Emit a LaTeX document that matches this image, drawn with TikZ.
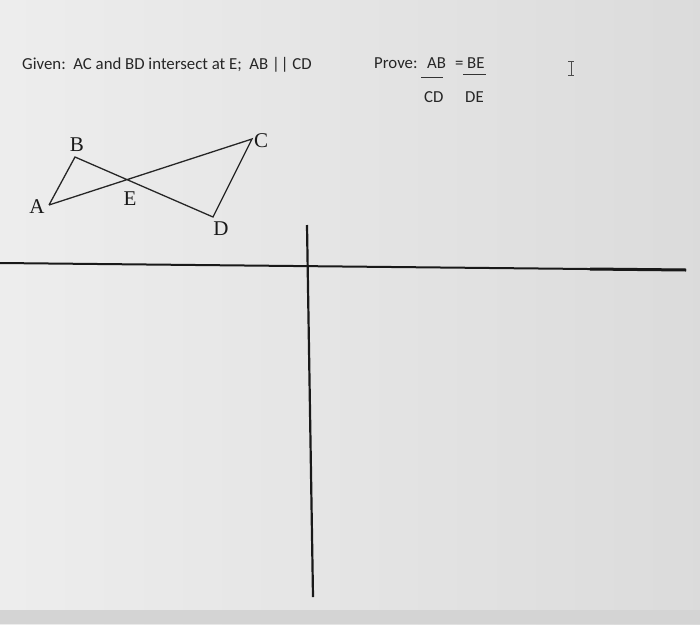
\documentclass[tikz,border=0pt]{standalone}
\usepackage{fontspec}
\setmainfont{Liberation Serif}
\newfontfamily\calfont{Carlito}
\begin{document}
\begin{tikzpicture}[x=1pt,y=-1pt,
  sanstext/.style={font=\calfont\fontsize{16.8}{19}\selectfont, inner sep=0pt, anchor=base west, text=black!85},
  vlabel/.style={font=\fontsize{21}{23}\selectfont, inner sep=0pt, text=black!90},
  seg/.style={line width=1.3pt, black!85},
  rule/.style={line width=2pt, black!90}]
\useasboundingbox (0,0) rectangle (700,624);
\shade[left color=black!7, right color=black!14] (0,0) rectangle (700,624);
\fill[black!17] (0,610) rectangle (700,624);
% text
\node[sanstext] (given) at (22,69) {Given:\ \ AC and BD intersect at E;\ \ AB |\kern1pt| CD};
\node[sanstext] (prove) at (374,68) {Prove:};
\node[sanstext] (ab) at (427,68) {AB};
\node[sanstext] (eq) at (455,68) {=};
\node[sanstext] (be) at (467,68) {BE};
\node[sanstext] (cd) at (424,102) {CD};
\node[sanstext] (de) at (465,102) {DE};
\coordinate (u1a) at (421,77); \coordinate (u1b) at (443,77);
\coordinate (u2a) at (463,74); \coordinate (u2b) at (486,74);
\draw[line width=1pt, black!80] (u1a) -- (u1b);
\draw[line width=1pt, black!80] (u2a) -- (u2b);
% I-beam cursor
\coordinate (ct) at (571,61); \coordinate (cb) at (571,75);
\draw[line width=0.8pt, black!70] (ct) -- (cb);
\draw[line width=0.8pt, black!70] (568,61) -- (574,61) (568,75) -- (574,75);
% figure
\coordinate (A) at (49,205);
\coordinate (B) at (75,157);
\coordinate (E) at (128,180);
\coordinate (C) at (252,139);
\coordinate (D) at (213,217);
\draw[seg] (A) -- (B) -- (D) -- (C) -- (A);
\node[vlabel] (lA) at (37,207) {A};
\node[vlabel] (lB) at (77,145) {B};
\node[vlabel] (lE) at (130,199) {E};
\node[vlabel] (lC) at (261,141) {C};
\node[vlabel] (lD) at (221,229) {D};
% T-chart
\coordinate (h1) at (0,263);
\coordinate (h2) at (686,270);
\coordinate (h3) at (590,269);
\coordinate (v1) at (307,225);
\coordinate (v2) at (313,597);
\draw[rule] (h1) -- (h2);
\draw[line width=3pt, black!90] (h3) -- (h2);
\draw[line width=2.2pt, black!90] (v1) -- (v2);
\end{tikzpicture}
\end{document}
